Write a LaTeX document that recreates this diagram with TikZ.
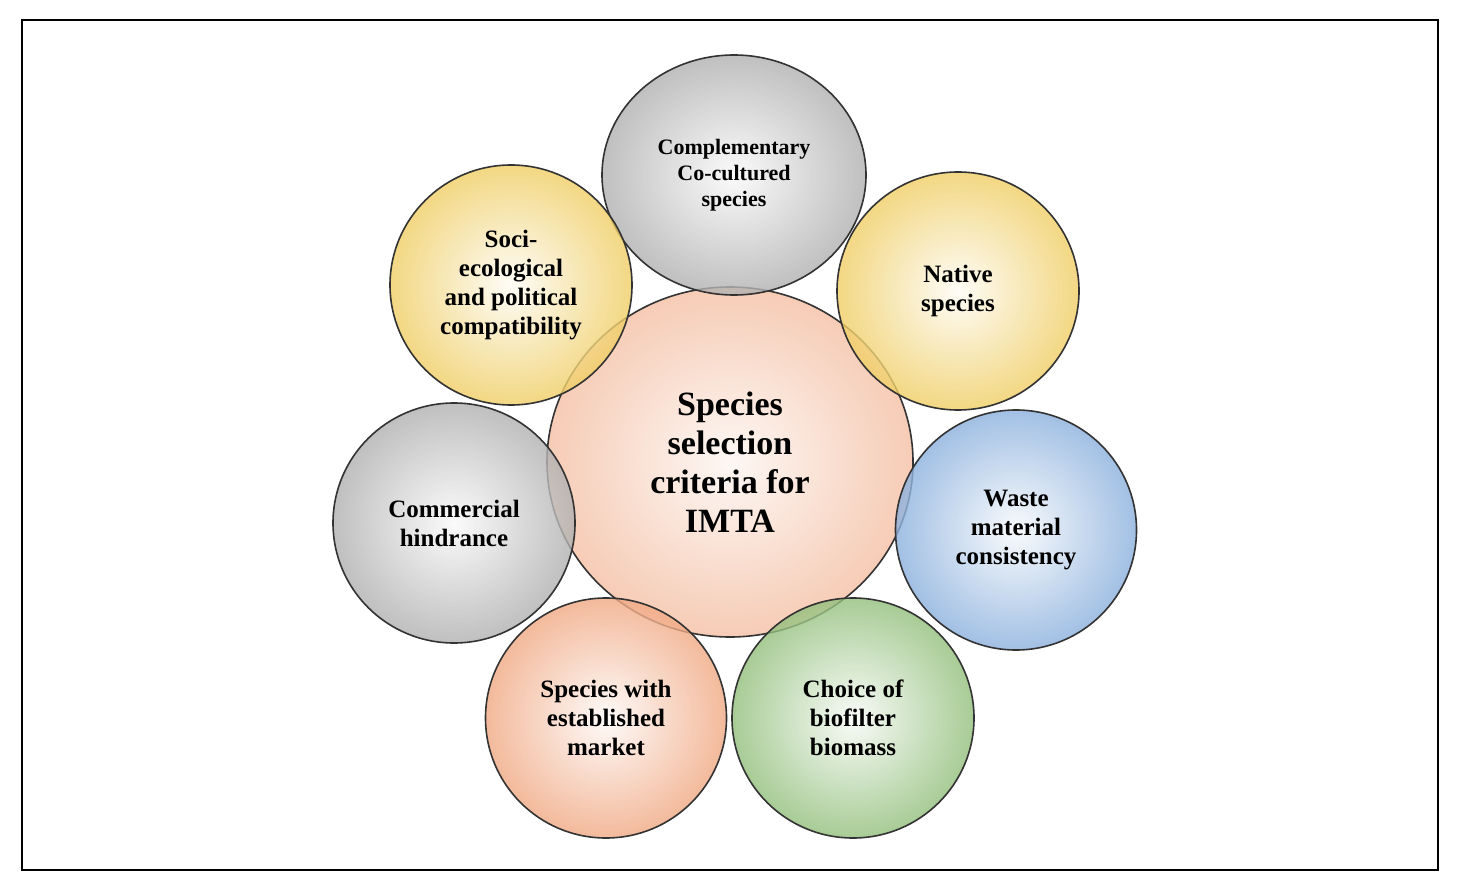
\documentclass[tikz,border=0pt]{standalone}
\usepackage{fontspec}
\setmainfont{Liberation Serif}
\usetikzlibrary{shapes.geometric}
\definecolor{cgray}{RGB}{150,150,150}
\definecolor{cyel}{RGB}{235,190,50}
\definecolor{cora}{RGB}{236,140,90}
\definecolor{cblu}{RGB}{100,150,210}
\definecolor{cgrn}{RGB}{110,170,80}
\tikzset{
 ball/.style={ellipse, draw=black!80, line width=1.6pt, inner sep=0pt, shading=radial,
   inner color=#1!5, outer color=#1!75, fill opacity=0.8, text opacity=1,
   align=center, font=\bfseries\fontsize{25}{29}\selectfont},
}
\begin{document}
\begin{tikzpicture}[x=1pt,y=-1pt]
\useasboundingbox (0,0) rectangle (1458,874);
\fill[white] (0,0) rectangle (1458,874);
\draw[line width=2pt] (22,20) rectangle (1438,870);
\node[ball=cora, inner color=cora!8, outer color=cora!55, minimum width=366pt, minimum height=350pt, font=\bfseries\fontsize{34}{39}\selectfont] (c) at (730,462) {Species\\selection\\criteria for\\IMTA};
\node[ball=cgray, minimum width=264pt, minimum height=240pt, font=\bfseries\fontsize{22}{26}\selectfont] (t) at (734,175) {Complementary\\Co-cultured\\species};
\node[ball=cyel, minimum width=242pt, minimum height=240pt] (s) at (511,285) {Soci-\\ecological\\and political\\compatibility};
\node[ball=cyel, minimum width=242pt, minimum height=238pt] (n) at (958,291) {Native\\species};
\node[ball=cblu, minimum width=241pt, minimum height=240pt] (w) at (1016,530) {Waste\\material\\consistency};
\node[ball=cgrn, minimum width=242pt, minimum height=240pt] (b) at (853,718) {Choice of\\biofilter\\biomass};
\node[ball=cora, minimum width=241pt, minimum height=240pt] (m) at (606,718) {Species with\\established\\market};
\node[ball=cgray, minimum width=242pt, minimum height=240pt] (h) at (454,523) {Commercial\\hindrance};
\end{tikzpicture}
\end{document}
